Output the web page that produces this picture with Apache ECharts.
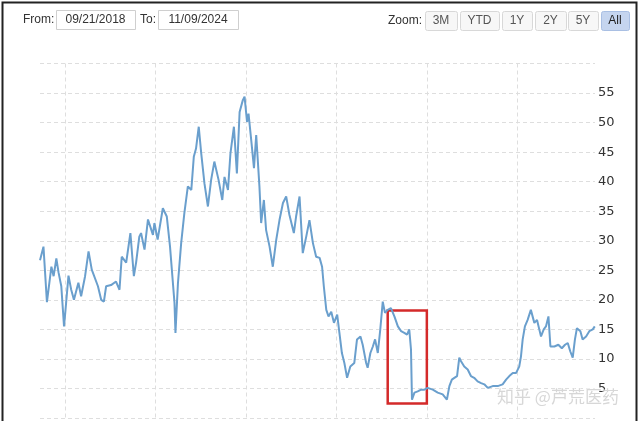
<!DOCTYPE html>
<html>
<head>
<meta charset="utf-8">
<script src="https://cdn.jsdelivr.net/npm/echarts@6/dist/echarts.min.js"></script>
<style>
html,body{margin:0;padding:0;background:#fff;}
#c{width:640px;height:421px;}
</style>
</head>
<body>
<div id="c"></div>
<script>
const dates = [
"2018-09-21","2018-10-05","2018-10-19","2018-11-06","2018-11-15","2018-11-26","2018-12-05","2018-12-16","2018-12-27",
"2019-01-02","2019-01-14","2019-01-25","2019-02-05","2019-02-23","2019-03-06","2019-03-22","2019-04-05","2019-04-18",
"2019-05-13","2019-05-26","2019-06-06","2019-06-15","2019-07-05","2019-07-25","2019-08-08","2019-08-17","2019-09-04",
"2019-09-21","2019-10-05","2019-10-14","2019-10-27","2019-11-03","2019-11-17","2019-12-01","2019-12-21","2019-12-27",
"2020-01-09","2020-01-30","2020-02-15","2020-02-28","2020-03-17","2020-03-21","2020-03-31","2020-04-13","2020-04-26",
"2020-05-10","2020-05-24","2020-06-03","2020-06-12","2020-06-23","2020-07-03","2020-07-16","2020-07-30","2020-08-12",
"2020-08-25","2020-09-11","2020-09-26","2020-10-05","2020-10-19","2020-10-29","2020-11-12","2020-11-24","2020-12-05",
"2020-12-18","2020-12-25",
"2021-01-04","2021-01-10","2021-01-21","2021-02-01","2021-02-10","2021-02-23","2021-03-02","2021-03-13","2021-03-22",
"2021-04-05","2021-04-18","2021-05-02","2021-05-15","2021-05-29","2021-06-11","2021-06-24","2021-07-12","2021-07-21",
"2021-08-04","2021-08-17","2021-08-31","2021-09-13","2021-09-27","2021-10-10","2021-10-24","2021-11-03","2021-11-10",
"2021-11-20","2021-11-29","2021-12-10","2021-12-21",
"2022-01-03","2022-01-12","2022-01-22","2022-02-01","2022-02-12","2022-02-25","2022-03-13","2022-03-24","2022-04-07",
"2022-04-16","2022-04-30","2022-05-06","2022-05-17","2022-05-27","2022-06-05","2022-06-16","2022-06-26","2022-07-06",
"2022-07-15","2022-07-26","2022-08-08","2022-08-22","2022-09-05","2022-09-18","2022-10-01","2022-10-12","2022-10-21",
"2022-10-28","2022-11-01","2022-11-11","2022-11-24","2022-12-08","2022-12-21",
"2023-01-03","2023-01-24","2023-02-13","2023-03-05","2023-03-22","2023-04-01","2023-04-11","2023-04-21","2023-05-02",
"2023-05-11","2023-05-18","2023-05-31","2023-06-14","2023-06-27","2023-07-10","2023-07-24","2023-08-07","2023-08-20",
"2023-09-03","2023-09-23","2023-10-13","2023-11-02","2023-11-16","2023-11-29","2023-12-13","2023-12-26",
"2024-01-08","2024-01-15","2024-01-22","2024-01-31","2024-02-11","2024-02-24","2024-03-02","2024-03-09","2024-03-20",
"2024-03-29","2024-04-05","2024-04-16","2024-04-25","2024-05-05","2024-05-13","2024-05-29","2024-06-14","2024-06-28",
"2024-07-11","2024-07-22","2024-08-01","2024-08-11","2024-08-20","2024-08-28","2024-09-11","2024-09-20","2024-10-04",
"2024-10-17","2024-10-31","2024-11-08"
];
const prices = [
26.7,29,19.6,25.6,24,27,24.6,22.3,15.5,
18.3,24.1,21.7,20,22.9,20.6,24,28.2,25.1,
22.3,20,19.7,22.3,22.5,23.1,21.7,27.3,26.3,
31.3,24,26.3,30.7,31.3,28.5,33.6,31,33,
30.2,35.5,34.1,29,19.5,14.4,22.8,29.6,34.7,
39.2,38.6,44.2,45.6,49.3,44.8,39.7,35.8,40.3,
43.4,40.3,36.9,40.8,38.6,44.8,49.3,41.4,51.8,
53.8,54.4,
50.1,51.5,47,42.3,47.9,39.2,33,36.9,31.8,
29,25.6,30.2,33.5,36.4,37.5,34.4,31.3,34.1,
37.5,27.9,30.7,33.5,29.6,27.3,27.1,25.6,22.3,
18.3,17.2,18,16.1,
17.5,14.4,11,9.3,6.8,8.7,9.3,13.3,13.8,
12.4,9.3,8.5,11,12.1,13.3,11,15,19.7,
17.8,18.3,18.6,17.2,15.5,14.7,14.4,14.1,15,
11.6,3.1,4.3,4.5,4.8,4.8,
5.1,4.8,4.3,4,3.1,5.4,6.5,6.8,7.1,
10.2,9.6,8.7,8.2,7.1,6.8,6.2,5.9,5.7,
5.1,5.4,5.4,5.7,6.5,7.1,7.6,7.6,
8.7,10.4,13.3,15.5,16.6,18.3,17.2,16.1,16.6,
15,13.8,15,15.5,17.2,12.1,12.1,12.4,11.8,
12.4,12.7,11.3,10.2,13.3,15.2,14.7,13.3,13.8,
14.7,15,15.5
];
const yTicks = [5,10,15,20,25,30,35,40,45,50,55];
const rangeFrom = "09/21/2018";
const rangeTo = "11/09/2024";
const zoomButtons = ["3M","YTD","1Y","2Y","5Y","All"];
const highlight = [["2022-07-26", 18.2], ["2022-12-31", 2.45]];
const watermark = "知乎 @芦荒医药";

const seriesData = dates.map((d, i) => [d, prices[i]]);

const chart = echarts.init(document.getElementById('c'), null, {renderer: 'canvas'});
const FONT = '"Liberation Sans", Arial, sans-serif';

const btnX = [425, 460, 502, 535, 568, 601];
const btnW = [32, 39, 30, 31, 30, 28];
const buttons = [];
zoomButtons.forEach((b, i) => {
  const active = b === 'All';
  buttons.push({
    type: 'rect', left: btnX[i], top: 11,
    shape: {width: btnW[i], height: 19, r: 2},
    style: {fill: active ? '#c5d5ef' : '#f7f7f7', stroke: active ? '#a9bfe3' : '#d8d8d8', lineWidth: 1}
  });
  buttons.push({
    type: 'text', x: btnX[i] + btnW[i] / 2, y: 20.5,
    style: {text: b, fill: active ? '#222' : '#555', font: '12px ' + FONT, textAlign: 'center', textVerticalAlign: 'middle'}
  });
});

const option = {
  backgroundColor: '#fff',
  animation: false,
  grid: {left: 40, right: 45, top: 63.5, bottom: 3, containLabel: false},
  xAxis: {
    type: 'time',
    min: '2018-09-21',
    max: '2024-11-09',
    minInterval: 365 * 24 * 3600 * 1000,
    maxInterval: 366 * 24 * 3600 * 1000,
    axisLine: {show: false},
    axisTick: {show: false},
    axisLabel: {show: false},
    splitLine: {show: true, showMinLine: false, showMaxLine: false, lineStyle: {color: '#dedede', type: [4, 3], width: 1}}
  },
  yAxis: {
    type: 'value',
    position: 'right',
    min: 0, max: 60, interval: 5,
    axisLine: {show: false},
    axisTick: {show: false},
    axisLabel: {
      margin: 3,
      fontSize: 13,
      fontFamily: '"DejaVu Sans", sans-serif',
      color: '#333',
      formatter: v => yTicks.indexOf(v) >= 0 ? String(v) : ''
    },
    splitLine: {show: true, lineStyle: {color: '#dedede', type: [4, 3], width: 1}}
  },
  series: [{
    type: 'line',
    data: seriesData,
    showSymbol: false,
    symbol: 'none',
    lineStyle: {color: '#6a9fcd', width: 2},
    markArea: {
      silent: true,
      itemStyle: {color: 'rgba(0,0,0,0)', borderColor: '#d42a2a', borderWidth: 2.5},
      data: [[{coord: highlight[0]}, {coord: highlight[1]}]]
    }
  }],
  graphic: [
    {type: 'rect', left: 0, top: 0, shape: {x: 1, y: 0.5, width: 634, height: 419.5}, style: {fill: 'none', stroke: '#222', lineWidth: 2}, z: 100},
    {type: 'text', x: 23, y: 20, style: {text: 'From:', fill: '#333', font: '12px ' + FONT, textVerticalAlign: 'middle'}},
    {type: 'rect', left: 56, top: 10, shape: {width: 79, height: 19}, style: {fill: '#fff', stroke: '#cfcfcf', lineWidth: 1}},
    {type: 'text', x: 95.5, y: 20, style: {text: rangeFrom, fill: '#333', font: '12px ' + FONT, textAlign: 'center', textVerticalAlign: 'middle'}},
    {type: 'text', x: 140, y: 20, style: {text: 'To:', fill: '#333', font: '12px ' + FONT, textVerticalAlign: 'middle'}},
    {type: 'rect', left: 158, top: 10, shape: {width: 80, height: 19}, style: {fill: '#fff', stroke: '#cfcfcf', lineWidth: 1}},
    {type: 'text', x: 198, y: 20, style: {text: rangeTo, fill: '#333', font: '12px ' + FONT, textAlign: 'center', textVerticalAlign: 'middle'}},
    {type: 'text', x: 388, y: 20.5, style: {text: 'Zoom:', fill: '#333', font: '12px ' + FONT, textVerticalAlign: 'middle'}},
    ...buttons,
    {type: 'text', x: 497, y: 397, z: 50, style: {text: watermark, fill: 'rgba(175,175,175,0.5)', stroke: 'rgba(255,255,255,0.8)', lineWidth: 1, font: '17px "Noto Sans CJK SC", sans-serif', textVerticalAlign: 'middle'}}
  ]
};
chart.setOption(option);
</script>
</body>
</html>
